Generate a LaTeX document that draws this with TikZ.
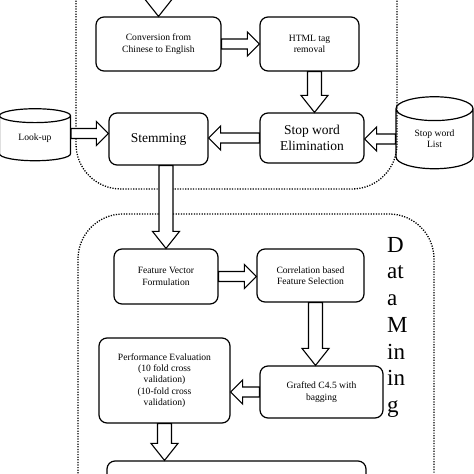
\documentclass[tikz,border=0pt]{standalone}
\usepackage{fontspec}
\setmainfont{Liberation Serif}
\usetikzlibrary{calc,shapes.geometric}

\tikzset{
  procbox/.style={draw, line width=1.2pt, rounded corners=8pt, align=center, inner sep=2pt,
    font=\fontsize{9.6}{11.4}\selectfont},
  bigbox/.style={procbox, font=\fontsize{13.5}{15.7}\selectfont},
  database/.style={draw, line width=1.2pt, cylinder, shape border rotate=90, aspect=0.42,
    align=center, inner sep=0pt, font=\fontsize{9.6}{11.4}\selectfont},
  blockarrow/.style n args={3}{draw, line width=1.1pt, fill=white,
    to path={let \p1=(\tikztostart), \p2=(\tikztotarget),
      \n1={atan2(\y2-\y1,\x2-\x1)}, \n2={veclen(\x2-\x1,\y2-\y1)} in
      {[shift={(\p1)}, rotate=\n1]
      (0pt,-#1) -- (\n2-#3,-#1) -- (\n2-#3,-#2) -- (\n2,0pt) -- (\n2-#3,#2) -- (\n2-#3,#1) -- (0pt,#1) -- cycle}}},
  varrow/.style={blockarrow={7pt}{13.5pt}{17pt}},
  harrow/.style={blockarrow={5pt}{12pt}{12pt}},
  stage/.style={line width=1.3pt, dash pattern=on 1.2pt off 1.4pt, rounded corners=45pt}
}

\begin{document}
\begin{tikzpicture}[x=1pt, y=-1pt]
  \clip (0,0) rectangle (474,474);
  \fill[white] (0,0) rectangle (474,474);
  \draw[stage] (76,-60) rectangle (397,189);
  \draw[stage] (78,214) rectangle (434,540);

  \node[procbox, minimum width=125pt, minimum height=54pt] (conv) at (158.5,44) {Conversion from\\Chinese to English};
  \node[procbox, minimum width=99pt, minimum height=54pt] (html) at (309.5,44) {HTML tag\\removal};
  \node[bigbox, minimum width=99pt, minimum height=52pt] (stem) at (158.5,139) {Stemming};
  \node[bigbox, minimum width=104pt, minimum height=50pt] (elim) at (312,138) {Stop word\\Elimination};
  \node[database, minimum width=71pt, minimum height=52pt] (lookup) at (35,138.5) {Look-up};
  \node[database, aspect=0.6, minimum width=77pt, minimum height=72pt] (stoplist) at (434.5,139) {Stop word\\List};

  \node[procbox, minimum width=104pt, minimum height=55pt] (fv) at (166,276.5) {Feature Vector\\Formulation};
  \node[procbox, minimum width=107pt, minimum height=53pt] (corr) at (310.5,275.5) {Correlation based\\Feature Selection};
  \node[procbox, minimum width=131pt, minimum height=85pt] (perf) at (164.5,380.5) {Performance Evaluation\\(10 fold cross\\validation)\\(10-fold cross\\validation)};
  \node[procbox, minimum width=123pt, minimum height=52pt] (graft) at (321.5,392) {Grafted C4.5 with\\bagging};
  \node[procbox, minimum width=259pt, minimum height=40pt] (result) at (236.5,481) {};
  \node[anchor=north west, align=left, inner sep=0pt, font=\fontsize{23}{26.7}\selectfont] (dm) at (387,237) {D\\at\\a\\M\\in\\in\\g};

  \coordinate (input) at (158.5,-10);
  \draw[varrow] (input) to (conv.north);
  \draw[harrow] (conv.east) to (html.west);
  \draw[varrow] ([xshift=5pt]html.south) to ([xshift=5pt]html.south |- elim.north);
  \draw[harrow] (elim.west) to (elim.west -| stem.east);
  \draw[harrow] (stoplist.west) to (stoplist.west -| elim.east);
  \draw[harrow] ([yshift=5pt]lookup.east) to ([yshift=5pt]lookup.east -| stem.west);
  \draw[varrow] (stem.south -| fv.north) to (fv.north);
  \draw[harrow] (fv.east) to (fv.east -| corr.west);
  \draw[varrow] ([xshift=5pt]corr.south) to ([xshift=5pt]corr.south |- graft.north);
  \draw[harrow] (graft.west) to (graft.west -| perf.east);
  \draw[varrow] (perf.south) to (perf.south |- result.north);
\end{tikzpicture}
\end{document}
